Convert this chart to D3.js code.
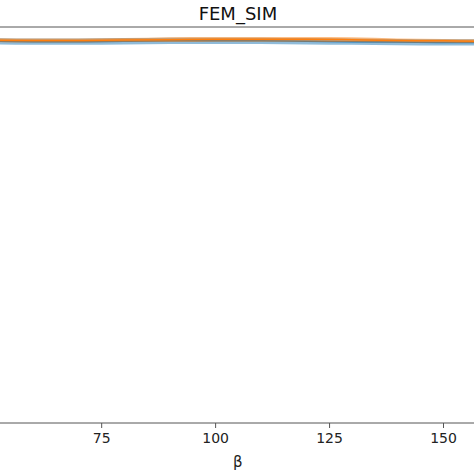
<!DOCTYPE html>
<html><head><meta charset="utf-8">
<script src="https://cdn.jsdelivr.net/npm/d3@7"></script>
<style>body{margin:0;background:#fff}</style>
</head><body><div id="chart"></div>
<script>
// beta values and mean/std for both series
const beta = [50, 60, 70, 80, 90, 100, 110, 120, 130, 140, 150, 160];
const blueMean = [0.964, 0.963, 0.963, 0.964, 0.965, 0.965, 0.965, 0.964, 0.963, 0.962, 0.961, 0.961];
const blueStd = [0.008, 0.008, 0.008, 0.008, 0.008, 0.008, 0.008, 0.008, 0.008, 0.008, 0.008, 0.008];
const orangeMean = [0.967, 0.966, 0.966, 0.967, 0.968, 0.969, 0.969, 0.969, 0.968, 0.966, 0.965, 0.964];
const orangeStd = [0.005, 0.005, 0.005, 0.005, 0.006, 0.006, 0.006, 0.006, 0.006, 0.005, 0.005, 0.005];
const xTicks = [75, 100, 125, 150];

const width = 474, height = 474;
const plotTop = 27, plotBottom = 423;
const svg = d3.select("#chart").append("svg").attr("width", width).attr("height", height);

const x = d3.scaleLinear().domain([52.8, 156.8]).range([0, width]);
const y = d3.scaleLinear().domain([0, 1]).range([plotBottom, plotTop]);

const drawSeries = (mean, std, color) => {
  const area = d3.area().x((d, i) => x(beta[i])).y0((d, i) => y(mean[i] - std[i])).y1((d, i) => y(mean[i] + std[i])).curve(d3.curveMonotoneX);
  svg.append("path").datum(mean).attr("d", area).attr("fill", color).attr("opacity", 0.5);
  const line = d3.line().x((d, i) => x(beta[i])).y(d => y(d)).curve(d3.curveMonotoneX);
  svg.append("path").datum(mean).attr("d", line).attr("fill", "none").attr("stroke", color).attr("stroke-width", 1.5);
};
drawSeries(blueMean, blueStd, "#1f77b4");
drawSeries(orangeMean, orangeStd, "#ff7f0e");

svg.append("line").attr("x1", 0).attr("x2", width).attr("y1", plotTop).attr("y2", plotTop).attr("stroke", "#555").attr("stroke-width", 1);

const xAxis = svg.append("g").attr("transform", `translate(0,${plotBottom})`)
  .call(d3.axisBottom(x).tickValues(xTicks).tickSize(5).tickPadding(5));
xAxis.select(".domain").attr("stroke", "#555").attr("d", `M0,0H${width}`);
xAxis.selectAll("line").attr("stroke", "#555");
xAxis.selectAll("text").attr("font-family", "DejaVu Sans").attr("font-size", 14).attr("fill", "#222");

svg.append("text").attr("x", x(105)).attr("y", 467).attr("text-anchor", "middle")
  .attr("font-family", "DejaVu Sans").attr("font-size", 15).attr("fill", "#222").text("β");
svg.append("text").attr("x", x(105)).attr("y", 20).attr("text-anchor", "middle")
  .attr("font-family", "DejaVu Sans").attr("font-size", 18).attr("fill", "#111").text("FEM_SIM");
</script></body></html>
